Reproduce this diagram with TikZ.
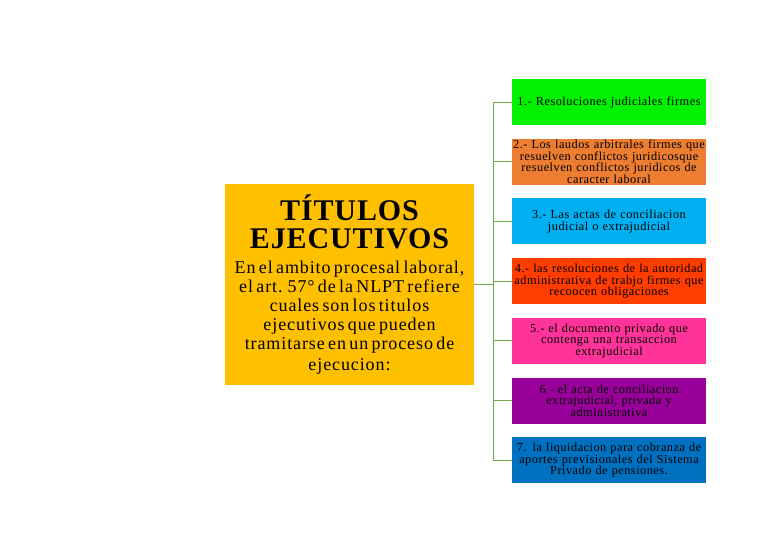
\documentclass[tikz,border=0pt]{standalone}
\usepackage{fontspec}
\setmainfont{Liberation Serif}
\newfontfamily\titlefont[LetterSpace=3]{Liberation Serif}
\newfontfamily\spacedfont[LetterSpace=5]{Liberation Serif}
\newfontfamily\boxfont[LetterSpace=4]{Liberation Serif}
\usetikzlibrary{positioning}
\definecolor{ambar}{HTML}{FFC000}
\definecolor{ramas}{HTML}{70AD47}
\definecolor{verde}{HTML}{00F200}
\definecolor{naranja}{HTML}{ED7D31}
\definecolor{celeste}{HTML}{00B0F0}
\definecolor{rojo}{HTML}{FF3D00}
\definecolor{rosa}{HTML}{FF3399}
\definecolor{morado}{HTML}{990099}
\definecolor{azul}{HTML}{0070C0}
\tikzset{titulo/.style={rectangle,fill=ambar,minimum width=249pt,minimum height=201pt,text width=245pt,align=center,inner sep=2pt}}
\tikzset{item/.style={rectangle,fill=#1,minimum width=194pt,minimum height=46pt,text width=194pt,align=center,inner sep=0pt,font=\boxfont\fontsize{12.3}{11.5}\selectfont}}
\tikzset{link/.style={draw=ramas,line width=1pt}}

\begin{document}
\begin{tikzpicture}[x=1pt,y=-1pt,node distance=59.7pt]
    \useasboundingbox (0,0) rectangle (768,543);

    \node[titulo] (titulos) at (349.5,284.5) {\titlefont\bfseries\fontsize{30}{26}\selectfont T\'ITULOS\\[2pt]EJECUTIVOS\\[6pt]
        \spacedfont\mdseries\fontsize{18}{19}\selectfont En el ambito procesal laboral,\\el art. 57° de la NLPT refiere\\cuales son los titulos\\ejecutivos que pueden\\tramitarse en un proceso de\\[4pt]ejecucion:};

    \node[item=verde] (item1) at (609,102) {1.- Resoluciones judiciales firmes};
    \node[item=naranja,below of=item1] (item2) {2.- Los laudos arbitrales firmes que\\resuelven conflictos juridicosque\\resuelven conflictos juridicos de\\caracter laboral};
    \node[item=celeste,below of=item2] (item3) {3.- Las actas de conciliacion\\judicial o extrajudicial};
    \node[item=rojo,below of=item3] (item4) {4.- las resoluciones de la autoridad\\administrativa de trabjo firmes que\\recoocen obligaciones};
    \node[item=rosa,below of=item4] (item5) {5.- el documento privado que\\contenga una transaccion\\extrajudicial};
    \node[item=morado,below of=item5] (item6) {6 - el acta de conciliacion\\extrajudicial, privada y\\administrativa};
    \node[item=azul,below of=item6] (item7) {7. la liquidacion para cobranza de\\aportes previsionales del Sistema\\Privado de pensiones.};

    \coordinate (trunk) at ([xshift=19pt]titulos.east);
    \path[link] (titulos.east) -- (trunk);
    \foreach \i in {1,...,7}
        \path[link] (trunk) |- (item\i.west);
\end{tikzpicture}
\end{document}
